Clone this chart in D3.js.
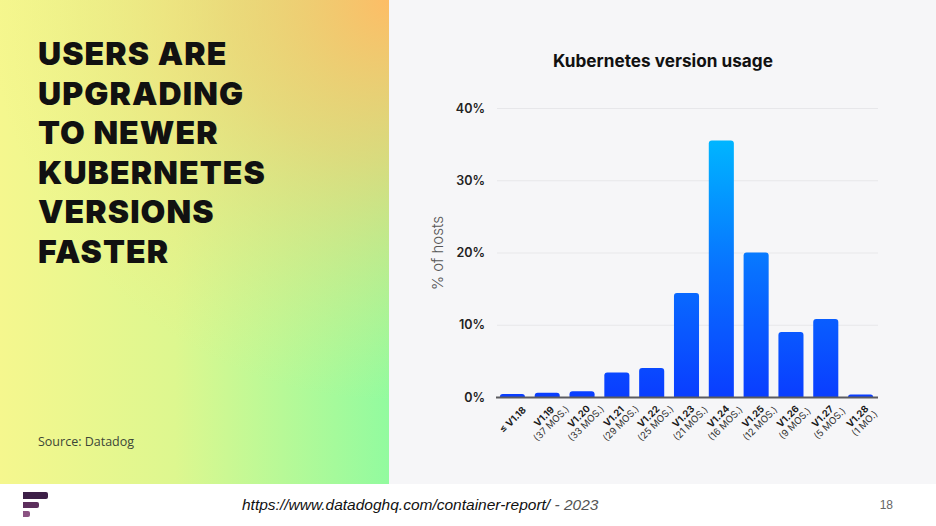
<!DOCTYPE html>
<html>
<head>
<meta charset="utf-8">
<script src="https://cdn.jsdelivr.net/npm/d3@7"></script>
<style>
  html, body { margin: 0; padding: 0; background: #fff; }
  svg { display: block; }
</style>
</head>
<body>
<svg id="slide" width="936" height="526"></svg>
<script>
// data
var versions = ["≤ V1.18", "V1.19", "V1.20", "V1.21", "V1.22", "V1.23", "V1.24", "V1.25", "V1.26", "V1.27", "V1.28"];
var ages = ["", "(37 MOS.)", "(33 MOS.)", "(29 MOS.)", "(25 MOS.)", "(21 MOS.)", "(16 MOS.)", "(12 MOS.)", "(9 MOS.)", "(5 MOS.)", "(1 MO.)"];
var share = [0.4, 0.6, 0.8, 3.4, 4.0, 14.4, 35.5, 20.0, 9.0, 10.8, 0.35];
var y_ticks = [0, 10, 20, 30, 40];
var headline = ["USERS ARE", "UPGRADING", "TO NEWER", "KUBERNETES", "VERSIONS", "FASTER"];

var svg = d3.select("#slide");
var defs = svg.append("defs");

// ---- backgrounds
var base = defs.append("linearGradient").attr("id", "leftBase")
    .attr("x1", 0).attr("y1", 0).attr("x2", 1).attr("y2", 0);
base.append("stop").attr("offset", 0).attr("stop-color", "#f5f78e");
base.append("stop").attr("offset", 0.45).attr("stop-color", "#ddf78f");
base.append("stop").attr("offset", 1).attr("stop-color", "#92fb9f");

var glow = defs.append("radialGradient").attr("id", "leftGlow")
    .attr("gradientUnits", "userSpaceOnUse")
    .attr("cx", 389).attr("cy", 0).attr("r", 400);
glow.append("stop").attr("offset", 0).attr("stop-color", "#fdbd66").attr("stop-opacity", 1);
glow.append("stop").attr("offset", 0.4).attr("stop-color", "#fcca6d").attr("stop-opacity", 0.65);
glow.append("stop").attr("offset", 1).attr("stop-color", "#fbe47d").attr("stop-opacity", 0);

svg.append("rect").attr("x", 0).attr("y", 0).attr("width", 389).attr("height", 484).attr("fill", "url(#leftBase)");
svg.append("rect").attr("x", 0).attr("y", 0).attr("width", 389).attr("height", 484).attr("fill", "url(#leftGlow)");
svg.append("rect").attr("x", 389).attr("y", 0).attr("width", 547).attr("height", 484).attr("fill", "#f6f6f8");

// ---- headline on the left
svg.append("g").selectAll("text")
    .data(headline)
    .enter().append("text")
    .attr("x", 38)
    .attr("y", (d, i) => 65 + i * 39.6)
    .attr("font-family", "Inter, 'Liberation Sans', sans-serif")
    .attr("font-weight", 900)
    .attr("font-size", 32)
    .attr("letter-spacing", 1.1)
    .attr("fill", "#111")
    .text(d => d);

svg.append("text")
    .attr("x", 38).attr("y", 446)
    .attr("font-family", "'Open Sans', sans-serif")
    .attr("font-size", 12.5)
    .attr("fill", "#3c4637")
    .text("Source: Datadog");

// ---- chart
var x = d3.scaleBand().domain(versions).range([495, 878]).paddingInner(0.28).paddingOuter(0.14);
var y = d3.scaleLinear().domain([0, 40]).range([397, 108]);

var barFill = defs.append("linearGradient").attr("id", "barFill")
    .attr("gradientUnits", "userSpaceOnUse")
    .attr("x1", 0).attr("y1", y(0)).attr("x2", 0).attr("y2", y(36));
barFill.append("stop").attr("offset", 0).attr("stop-color", "#0a3dff");
barFill.append("stop").attr("offset", 0.5).attr("stop-color", "#0873ff");
barFill.append("stop").attr("offset", 1).attr("stop-color", "#00b7ff");

svg.append("text")
    .attr("x", 663).attr("y", 67)
    .attr("text-anchor", "middle")
    .attr("font-family", "Inter, sans-serif")
    .attr("font-weight", 700)
    .attr("font-size", 17.2)
    .attr("fill", "#111")
    .text("Kubernetes version usage");

// grid + y labels
var yAxis = d3.axisLeft(y).tickValues(y_ticks).tickFormat(d => d + "%")
    .tickSize(-(878 - 497)).tickPadding(12);
var yg = svg.append("g").attr("transform", "translate(497,0)").call(yAxis);
yg.select(".domain").remove();
yg.selectAll(".tick line").attr("stroke", "#e7e7ea").attr("stroke-width", 1.2);
yg.selectAll(".tick text")
    .attr("font-family", "Inter, sans-serif")
    .attr("font-weight", 600)
    .attr("font-size", 12.5)
    .attr("fill", "#222");

svg.append("text")
    .attr("transform", "translate(443,253) rotate(-90)")
    .attr("text-anchor", "middle")
    .attr("font-family", "Inter, sans-serif")
    .attr("font-weight", 300)
    .attr("font-size", 15)
    .attr("fill", "#555")
    .text("% of hosts");

// bars with rounded tops
function barPath(d) {
  var x0 = x(d.v), w = x.bandwidth();
  var top = y(d.s), bot = y(0);
  var r = Math.min(3, (bot - top), w / 2);
  return "M" + x0 + "," + bot +
         "V" + (top + r) +
         "Q" + x0 + "," + top + " " + (x0 + r) + "," + top +
         "H" + (x0 + w - r) +
         "Q" + (x0 + w) + "," + top + " " + (x0 + w) + "," + (top + r) +
         "V" + bot + "Z";
}

var rows = versions.map((v, i) => ({v: v, a: ages[i], s: share[i]}));

svg.append("g").selectAll("path")
    .data(rows)
    .enter().append("path")
    .attr("d", barPath)
    .attr("fill", "url(#barFill)");

svg.append("line")
    .attr("x1", 496).attr("x2", 878)
    .attr("y1", y(0) + 0.5).attr("y2", y(0) + 0.5)
    .attr("stroke", "#5b5b5f").attr("stroke-width", 2);

// rotated category labels, centred under each bar
var lab = svg.append("g").selectAll("g")
    .data(rows)
    .enter().append("g")
    .attr("transform", d => "translate(" + (x(d.v) + x.bandwidth() / 2 + 0.5) + ",420) rotate(-45)");

var t = lab.append("text")
    .attr("text-anchor", "middle")
    .attr("dominant-baseline", "middle")
    .attr("font-family", "Inter, sans-serif")
    .attr("font-size", 9.5);
t.append("tspan")
    .attr("x", 0)
    .attr("y", d => d.a ? -4.8 : 0)
    .attr("font-weight", 700)
    .attr("fill", "#1a1a1a")
    .text(d => d.v);
t.append("tspan")
    .attr("x", 0).attr("y", 5.2)
    .attr("fill", "#333")
    .text(d => d.a);

// ---- footer
var logo = [
  {w: 25, y: 492, h: 7, c: "#3d1f47"},
  {w: 16, y: 502, h: 6, c: "#5c2e5c"},
  {w: 7, y: 511, h: 6, c: "#8b5382"}
];
svg.append("g").selectAll("path")
    .data(logo)
    .enter().append("path")
    .attr("d", d => "M23," + d.y + "H" + (23 + d.w - 2) + "Q" + (23 + d.w) + "," + d.y + " " + (23 + d.w) + "," + (d.y + 2) +
                   "V" + (d.y + d.h - 2) + "Q" + (23 + d.w) + "," + (d.y + d.h) + " " + (23 + d.w - 2) + "," + (d.y + d.h) +
                   "H23Z")
    .attr("fill", d => d.c);

var foot = svg.append("text")
    .attr("x", 242).attr("y", 510)
    .attr("font-family", "'Liberation Sans', Arial, sans-serif")
    .attr("font-style", "italic")
    .attr("font-size", 15.5);
foot.append("tspan").attr("fill", "#111").text("https://www.datadoghq.com/container-report/");
foot.append("tspan").attr("fill", "#555").text(" - 2023");

svg.append("text")
    .attr("x", 893).attr("y", 509)
    .attr("text-anchor", "end")
    .attr("font-family", "'Liberation Sans', Arial, sans-serif")
    .attr("font-size", 12)
    .attr("fill", "#666")
    .text("18");
</script>
</body>
</html>
